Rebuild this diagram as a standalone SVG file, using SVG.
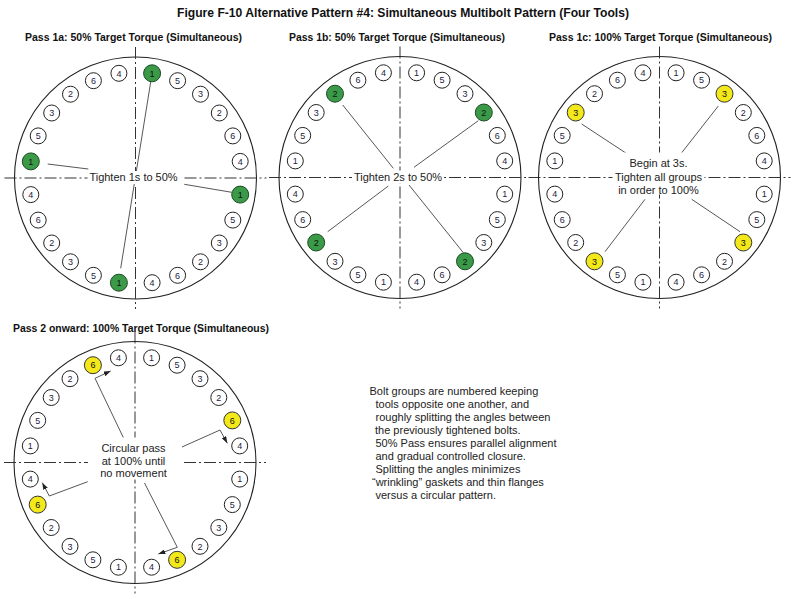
<svg xmlns="http://www.w3.org/2000/svg" width="800" height="599" viewBox="0 0 800 599">
<style>
.title{font-family:"Liberation Sans",Arial,sans-serif;font-weight:bold;font-size:13px;fill:#111}
.head{font-family:"Liberation Sans",Arial,sans-serif;font-weight:bold;font-size:11px;fill:#111}
.lbl{font-family:"Liberation Sans",Arial,sans-serif;font-size:11px;fill:#222;text-anchor:middle}
.body{font-family:"Liberation Sans",Arial,sans-serif;font-size:11px;fill:#222}
.rim{fill:none;stroke:#222;stroke-width:1.1}
.axis{stroke:#333;stroke-width:1;stroke-dasharray:12 3 2 3;fill:none}
.lead{stroke:#444;stroke-width:0.9;fill:none}
.arr{stroke:#444;stroke-width:0.9;fill:none;marker-end:url(#ah)}
.bg{fill:#fff}
.bolt circle{fill:#fff;stroke:#222;stroke-width:1}
.bolt text{font-family:"Liberation Sans",Arial,sans-serif;font-size:9px;fill:#1c2440;text-anchor:middle}
.bolt.g circle{fill:#3a9a48;stroke:#1d4a25}
.bolt.g text{fill:#111}
.bolt.y circle{fill:#f3e81a;stroke:#333}
.bolt.y text{fill:#111}
</style>
<defs>
<marker id="ah" viewBox="0 0 7 5" refX="7" refY="2.5" markerWidth="7" markerHeight="5" orient="auto" markerUnits="userSpaceOnUse"><path d="M0,0 L7,2.5 L0,5 z" fill="#222"/></marker>
</defs>

<text class="title" x="177" y="17" textLength="452" lengthAdjust="spacingAndGlyphs">Figure F-10 Alternative Pattern #4: Simultaneous Multibolt Pattern (Four Tools)</text>
<text class="head" x="25" y="41" textLength="217" lengthAdjust="spacingAndGlyphs">Pass 1a: 50% Target Torque (Simultaneous)</text>
<text class="head" x="289" y="41" textLength="216" lengthAdjust="spacingAndGlyphs">Pass 1b: 50% Target Torque (Simultaneous)</text>
<text class="head" x="549" y="41" textLength="223" lengthAdjust="spacingAndGlyphs">Pass 1c: 100% Target Torque (Simultaneous)</text>
<text class="head" x="13" y="332" textLength="256" lengthAdjust="spacingAndGlyphs">Pass 2 onward: 100% Target Torque (Simultaneous)</text>

<!-- Diagram 1 -->
<g id="pass1a" transform="translate(135.5,178)">
<circle class="rim" r="121"/>
<path class="axis" d="M0,-131 V131 M-131,0 H131"/>
<g id="pass1a-connectors">
<path class="lead" d="M15.2,-96 L-14.8,90.3"/>
<path class="lead" d="M-87.8,-14 L-47.2,-9"/>
<path class="lead" d="M48.8,6.3 L96.2,14.3"/>
</g>
<rect class="bg" x="-48" y="-7" width="96" height="13"/>
<text class="lbl" x="-2" y="3">Tighten 1s to 50%</text>
<g id="p1a-b01" class="bolt g" transform="translate(16.6,-104.7)"><circle r="8.5"/><text y="3.2">1</text></g>
<g id="p1a-b02" class="bolt" transform="translate(42.1,-97.3)"><circle r="8"/><text y="3.2">5</text></g>
<g id="p1a-b03" class="bolt" transform="translate(65,-83.8)"><circle r="8"/><text y="3.2">3</text></g>
<g id="p1a-b04" class="bolt" transform="translate(83.8,-65)"><circle r="8"/><text y="3.2">2</text></g>
<g id="p1a-b05" class="bolt" transform="translate(97.3,-42.1)"><circle r="8"/><text y="3.2">6</text></g>
<g id="p1a-b06" class="bolt" transform="translate(104.7,-16.6)"><circle r="8"/><text y="3.2">4</text></g>
<g id="p1a-b07" class="bolt g" transform="translate(104.7,16.6)"><circle r="8.5"/><text y="3.2">1</text></g>
<g id="p1a-b08" class="bolt" transform="translate(97.3,42.1)"><circle r="8"/><text y="3.2">5</text></g>
<g id="p1a-b09" class="bolt" transform="translate(83.8,65)"><circle r="8"/><text y="3.2">3</text></g>
<g id="p1a-b10" class="bolt" transform="translate(65,83.8)"><circle r="8"/><text y="3.2">2</text></g>
<g id="p1a-b11" class="bolt" transform="translate(42.1,97.3)"><circle r="8"/><text y="3.2">6</text></g>
<g id="p1a-b12" class="bolt" transform="translate(16.6,104.7)"><circle r="8"/><text y="3.2">4</text></g>
<g id="p1a-b13" class="bolt g" transform="translate(-16.6,104.7)"><circle r="8.5"/><text y="3.2">1</text></g>
<g id="p1a-b14" class="bolt" transform="translate(-42.1,97.3)"><circle r="8"/><text y="3.2">5</text></g>
<g id="p1a-b15" class="bolt" transform="translate(-65,83.8)"><circle r="8"/><text y="3.2">3</text></g>
<g id="p1a-b16" class="bolt" transform="translate(-83.8,65)"><circle r="8"/><text y="3.2">2</text></g>
<g id="p1a-b17" class="bolt" transform="translate(-97.3,42.1)"><circle r="8"/><text y="3.2">6</text></g>
<g id="p1a-b18" class="bolt" transform="translate(-104.7,16.6)"><circle r="8"/><text y="3.2">4</text></g>
<g id="p1a-b19" class="bolt g" transform="translate(-104.7,-16.6)"><circle r="8.5"/><text y="3.2">1</text></g>
<g id="p1a-b20" class="bolt" transform="translate(-97.3,-42.1)"><circle r="8"/><text y="3.2">5</text></g>
<g id="p1a-b21" class="bolt" transform="translate(-83.8,-65)"><circle r="8"/><text y="3.2">3</text></g>
<g id="p1a-b22" class="bolt" transform="translate(-65,-83.8)"><circle r="8"/><text y="3.2">2</text></g>
<g id="p1a-b23" class="bolt" transform="translate(-42.1,-97.3)"><circle r="8"/><text y="3.2">6</text></g>
<g id="p1a-b24" class="bolt" transform="translate(-16.6,-104.7)"><circle r="8"/><text y="3.2">4</text></g>
</g>

<!-- Diagram 2 -->
<g id="pass1b" transform="translate(400,177.5)">
<circle class="rim" r="121"/>
<path class="axis" d="M0,-131 V131 M-131,0 H131"/>
<g id="pass1b-connectors">
<path class="lead" d="M-57.3,-72.5 L-6.7,-9.2"/>
<path class="lead" d="M78.3,-56.8 L14,-10.2"/>
<path class="lead" d="M-72.3,54.2 L-11.7,8.5"/>
<path class="lead" d="M63.3,75.2 L9,7.5"/>
</g>
<rect class="bg" x="-48" y="-7" width="92" height="13"/>
<text class="lbl" x="-2" y="3">Tighten 2s to 50%</text>
<g id="p1b-b01" class="bolt" transform="translate(16.6,-104.7)"><circle r="8"/><text y="3.2">1</text></g>
<g id="p1b-b02" class="bolt" transform="translate(42.1,-97.3)"><circle r="8"/><text y="3.2">5</text></g>
<g id="p1b-b03" class="bolt" transform="translate(65,-83.8)"><circle r="8"/><text y="3.2">3</text></g>
<g id="p1b-b04" class="bolt g" transform="translate(83.8,-65)"><circle r="8.5"/><text y="3.2">2</text></g>
<g id="p1b-b05" class="bolt" transform="translate(97.3,-42.1)"><circle r="8"/><text y="3.2">6</text></g>
<g id="p1b-b06" class="bolt" transform="translate(104.7,-16.6)"><circle r="8"/><text y="3.2">4</text></g>
<g id="p1b-b07" class="bolt" transform="translate(104.7,16.6)"><circle r="8"/><text y="3.2">1</text></g>
<g id="p1b-b08" class="bolt" transform="translate(97.3,42.1)"><circle r="8"/><text y="3.2">5</text></g>
<g id="p1b-b09" class="bolt" transform="translate(83.8,65)"><circle r="8"/><text y="3.2">3</text></g>
<g id="p1b-b10" class="bolt g" transform="translate(65,83.8)"><circle r="8.5"/><text y="3.2">2</text></g>
<g id="p1b-b11" class="bolt" transform="translate(42.1,97.3)"><circle r="8"/><text y="3.2">6</text></g>
<g id="p1b-b12" class="bolt" transform="translate(16.6,104.7)"><circle r="8"/><text y="3.2">4</text></g>
<g id="p1b-b13" class="bolt" transform="translate(-16.6,104.7)"><circle r="8"/><text y="3.2">1</text></g>
<g id="p1b-b14" class="bolt" transform="translate(-42.1,97.3)"><circle r="8"/><text y="3.2">5</text></g>
<g id="p1b-b15" class="bolt" transform="translate(-65,83.8)"><circle r="8"/><text y="3.2">3</text></g>
<g id="p1b-b16" class="bolt g" transform="translate(-83.8,65)"><circle r="8.5"/><text y="3.2">2</text></g>
<g id="p1b-b17" class="bolt" transform="translate(-97.3,42.1)"><circle r="8"/><text y="3.2">6</text></g>
<g id="p1b-b18" class="bolt" transform="translate(-104.7,16.6)"><circle r="8"/><text y="3.2">4</text></g>
<g id="p1b-b19" class="bolt" transform="translate(-104.7,-16.6)"><circle r="8"/><text y="3.2">1</text></g>
<g id="p1b-b20" class="bolt" transform="translate(-97.3,-42.1)"><circle r="8"/><text y="3.2">5</text></g>
<g id="p1b-b21" class="bolt" transform="translate(-83.8,-65)"><circle r="8"/><text y="3.2">3</text></g>
<g id="p1b-b22" class="bolt g" transform="translate(-65,-83.8)"><circle r="8.5"/><text y="3.2">2</text></g>
<g id="p1b-b23" class="bolt" transform="translate(-42.1,-97.3)"><circle r="8"/><text y="3.2">6</text></g>
<g id="p1b-b24" class="bolt" transform="translate(-16.6,-104.7)"><circle r="8"/><text y="3.2">4</text></g>
</g>

<!-- Diagram 3 -->
<g id="pass1c" transform="translate(659.5,177.5)">
<circle class="rim" r="121"/>
<path class="axis" d="M0,-131 V131 M-131,0 H131"/>
<g id="pass1c-connectors">
<path class="lead" d="M-77.8,-53.5 L-32.2,-23.5"/>
<path class="lead" d="M58.8,-71.5 L21.2,-23.5"/>
<path class="lead" d="M-54.5,74.2 L-14.5,21.8"/>
<path class="lead" d="M32.2,21.8 L80.5,54.2"/>
</g>
<rect class="bg" x="-47" y="-25" width="92" height="42"/>
<text class="lbl" x="-1" y="-11">Begin at 3s.</text>
<text class="lbl" x="-1" y="3">Tighten all groups</text>
<text class="lbl" x="-1" y="16">in order to 100%</text>
<g id="p1c-b01" class="bolt" transform="translate(16.6,-104.7)"><circle r="8"/><text y="3.2">1</text></g>
<g id="p1c-b02" class="bolt" transform="translate(42.1,-97.3)"><circle r="8"/><text y="3.2">5</text></g>
<g id="p1c-b03" class="bolt y" transform="translate(65,-83.8)"><circle r="8.5"/><text y="3.2">3</text></g>
<g id="p1c-b04" class="bolt" transform="translate(83.8,-65)"><circle r="8"/><text y="3.2">2</text></g>
<g id="p1c-b05" class="bolt" transform="translate(97.3,-42.1)"><circle r="8"/><text y="3.2">6</text></g>
<g id="p1c-b06" class="bolt" transform="translate(104.7,-16.6)"><circle r="8"/><text y="3.2">4</text></g>
<g id="p1c-b07" class="bolt" transform="translate(104.7,16.6)"><circle r="8"/><text y="3.2">1</text></g>
<g id="p1c-b08" class="bolt" transform="translate(97.3,42.1)"><circle r="8"/><text y="3.2">5</text></g>
<g id="p1c-b09" class="bolt y" transform="translate(83.8,65)"><circle r="8.5"/><text y="3.2">3</text></g>
<g id="p1c-b10" class="bolt" transform="translate(65,83.8)"><circle r="8"/><text y="3.2">2</text></g>
<g id="p1c-b11" class="bolt" transform="translate(42.1,97.3)"><circle r="8"/><text y="3.2">6</text></g>
<g id="p1c-b12" class="bolt" transform="translate(16.6,104.7)"><circle r="8"/><text y="3.2">4</text></g>
<g id="p1c-b13" class="bolt" transform="translate(-16.6,104.7)"><circle r="8"/><text y="3.2">1</text></g>
<g id="p1c-b14" class="bolt" transform="translate(-42.1,97.3)"><circle r="8"/><text y="3.2">5</text></g>
<g id="p1c-b15" class="bolt y" transform="translate(-65,83.8)"><circle r="8.5"/><text y="3.2">3</text></g>
<g id="p1c-b16" class="bolt" transform="translate(-83.8,65)"><circle r="8"/><text y="3.2">2</text></g>
<g id="p1c-b17" class="bolt" transform="translate(-97.3,42.1)"><circle r="8"/><text y="3.2">6</text></g>
<g id="p1c-b18" class="bolt" transform="translate(-104.7,16.6)"><circle r="8"/><text y="3.2">4</text></g>
<g id="p1c-b19" class="bolt" transform="translate(-104.7,-16.6)"><circle r="8"/><text y="3.2">1</text></g>
<g id="p1c-b20" class="bolt" transform="translate(-97.3,-42.1)"><circle r="8"/><text y="3.2">5</text></g>
<g id="p1c-b21" class="bolt y" transform="translate(-83.8,-65)"><circle r="8.5"/><text y="3.2">3</text></g>
<g id="p1c-b22" class="bolt" transform="translate(-65,-83.8)"><circle r="8"/><text y="3.2">2</text></g>
<g id="p1c-b23" class="bolt" transform="translate(-42.1,-97.3)"><circle r="8"/><text y="3.2">6</text></g>
<g id="p1c-b24" class="bolt" transform="translate(-16.6,-104.7)"><circle r="8"/><text y="3.2">4</text></g>
</g>

<!-- Diagram 4 -->
<g id="pass2" transform="translate(135,462.5)">
<circle class="rim" r="121"/>
<path class="axis" d="M0,-131 V131 M-131,0 H131"/>
<g id="pass2-connectors">
<path class="arr" d="M-11,-23.5 L-40,-84.2 L-24.3,-91.5"/>
<path class="arr" d="M47,-15.5 L85,-32.5 L92.3,-19.2"/>
<path class="arr" d="M-47.3,19.2 L-85.7,33.5 L-92.7,20.2"/>
<path class="arr" d="M9.5,20.5 L42.3,84.8 L23.3,91.5"/>
</g>
<rect class="bg" x="-47" y="-25" width="93" height="42"/>
<text class="lbl" x="-1.5" y="-10.5">Circular pass</text>
<text class="lbl" x="-1.5" y="2">at 100% until</text>
<text class="lbl" x="-1.5" y="14.5">no movement</text>
<g id="p2-b01" class="bolt" transform="translate(16.6,-104.7)"><circle r="8"/><text y="3.2">1</text></g>
<g id="p2-b02" class="bolt" transform="translate(42.1,-97.3)"><circle r="8"/><text y="3.2">5</text></g>
<g id="p2-b03" class="bolt" transform="translate(65,-83.8)"><circle r="8"/><text y="3.2">3</text></g>
<g id="p2-b04" class="bolt" transform="translate(83.8,-65)"><circle r="8"/><text y="3.2">2</text></g>
<g id="p2-b05" class="bolt y" transform="translate(97.3,-42.1)"><circle r="8.5"/><text y="3.2">6</text></g>
<g id="p2-b06" class="bolt" transform="translate(104.7,-16.6)"><circle r="8"/><text y="3.2">4</text></g>
<g id="p2-b07" class="bolt" transform="translate(104.7,16.6)"><circle r="8"/><text y="3.2">1</text></g>
<g id="p2-b08" class="bolt" transform="translate(97.3,42.1)"><circle r="8"/><text y="3.2">5</text></g>
<g id="p2-b09" class="bolt" transform="translate(83.8,65)"><circle r="8"/><text y="3.2">3</text></g>
<g id="p2-b10" class="bolt" transform="translate(65,83.8)"><circle r="8"/><text y="3.2">2</text></g>
<g id="p2-b11" class="bolt y" transform="translate(42.1,97.3)"><circle r="8.5"/><text y="3.2">6</text></g>
<g id="p2-b12" class="bolt" transform="translate(16.6,104.7)"><circle r="8"/><text y="3.2">4</text></g>
<g id="p2-b13" class="bolt" transform="translate(-16.6,104.7)"><circle r="8"/><text y="3.2">1</text></g>
<g id="p2-b14" class="bolt" transform="translate(-42.1,97.3)"><circle r="8"/><text y="3.2">5</text></g>
<g id="p2-b15" class="bolt" transform="translate(-65,83.8)"><circle r="8"/><text y="3.2">3</text></g>
<g id="p2-b16" class="bolt" transform="translate(-83.8,65)"><circle r="8"/><text y="3.2">2</text></g>
<g id="p2-b17" class="bolt y" transform="translate(-97.3,42.1)"><circle r="8.5"/><text y="3.2">6</text></g>
<g id="p2-b18" class="bolt" transform="translate(-104.7,16.6)"><circle r="8"/><text y="3.2">4</text></g>
<g id="p2-b19" class="bolt" transform="translate(-104.7,-16.6)"><circle r="8"/><text y="3.2">1</text></g>
<g id="p2-b20" class="bolt" transform="translate(-97.3,-42.1)"><circle r="8"/><text y="3.2">5</text></g>
<g id="p2-b21" class="bolt" transform="translate(-83.8,-65)"><circle r="8"/><text y="3.2">3</text></g>
<g id="p2-b22" class="bolt" transform="translate(-65,-83.8)"><circle r="8"/><text y="3.2">2</text></g>
<g id="p2-b23" class="bolt y" transform="translate(-42.1,-97.3)"><circle r="8.5"/><text y="3.2">6</text></g>
<g id="p2-b24" class="bolt" transform="translate(-16.6,-104.7)"><circle r="8"/><text y="3.2">4</text></g>
</g>

<g id="notes">
<text class="body" x="369.5" y="395">Bolt groups are numbered keeping</text>
<text class="body" x="375.5" y="408">tools opposite one another, and</text>
<text class="body" x="375.5" y="421">roughly splitting the angles between</text>
<text class="body" x="375" y="434">the previously tightened bolts.</text>
<text class="body" x="375.5" y="447">50% Pass ensures parallel alignment</text>
<text class="body" x="375.5" y="460">and gradual controlled closure.</text>
<text class="body" x="375.5" y="473">Splitting the angles minimizes</text>
<text class="body" x="372" y="486">“wrinkling” gaskets and thin flanges</text>
<text class="body" x="375.5" y="499">versus a circular pattern.</text>
</g>
</svg>
